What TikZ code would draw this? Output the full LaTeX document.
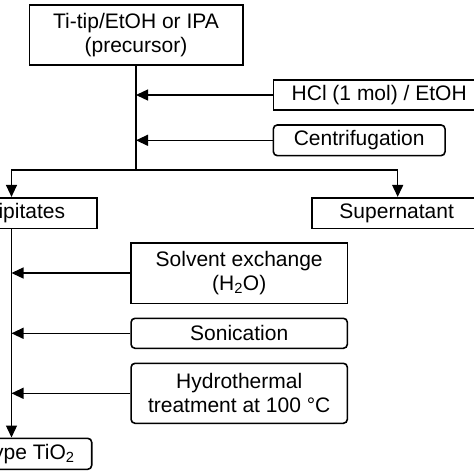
\documentclass[tikz,border=0pt]{standalone}
\usepackage{fontspec}
\setmainfont{Liberation Sans}
\usetikzlibrary{arrows.meta}
\tikzset{>={Triangle[length=12pt,width=11pt]},font=\fontsize{21}{24}\selectfont}

\begin{document}
\begin{tikzpicture}[x=1pt,y=-1pt,line width=1.3pt,
  box/.style={draw,line width=1.6pt,inner sep=0pt,align=center},
  rbox/.style={box,rounded corners=4pt}]
\useasboundingbox (0,0) rectangle (474,474);
\clip (0,0) rectangle (474,474);
\node[box,minimum width=213.4pt,minimum height=60.3pt] (Pre) at (136,34.9) {Ti-tip/EtOH or IPA\\(precursor)};
\node[box,minimum width=211.8pt,minimum height=30pt] (HCl) at (379.2,95) {HCl (1 mol) / EtOH};
\node[rbox,minimum width=171.7pt,minimum height=30.7pt] (Cen) at (359.2,140.3) {Centrifugation};
\node[box,minimum width=173pt,minimum height=30.6pt] (Pcp) at (10.2,213) {Precipitates};
\node[box,minimum width=170pt,minimum height=30.6pt] (Sup) at (396.7,213) {Supernatant};
\node[box,minimum width=216.3pt,minimum height=60.6pt] (Sol) at (239.2,273) {Solvent exchange\\(H\textsubscript{2}O)};
\node[rbox,minimum width=216.3pt,minimum height=30pt] (Son) at (239.2,333.3) {Sonication};
\node[rbox,minimum width=216.3pt,minimum height=60pt] (Hyd) at (239.2,393.3) {Hydrothermal\\treatment at 100 °C};
\node[rbox,minimum width=205.6pt,minimum height=31pt] (Tio) at (-11.1,453.8) {Anatase-type TiO\textsubscript{2}};
\coordinate (T) at (136,170);
\coordinate (L) at (11.5,170);
\coordinate (R) at (397.7,170);
% upper trunk
\draw (Pre) -- (T);
\draw[->] (HCl) -- (HCl -| T);
\draw[->] (Cen) -- (Cen -| T);
\draw[<->] (L |- Pcp.north) -- (L) -- (R) -- (R |- Sup.north);
% lower trunk
\draw[->] (L |- Pcp.south) -- (L |- Tio.north);
\draw[->] (Sol) -- (Sol -| L);
\draw[->] (Son) -- (Son -| L);
\draw[->] (Hyd) -- (Hyd -| L);
\end{tikzpicture}
\end{document}
